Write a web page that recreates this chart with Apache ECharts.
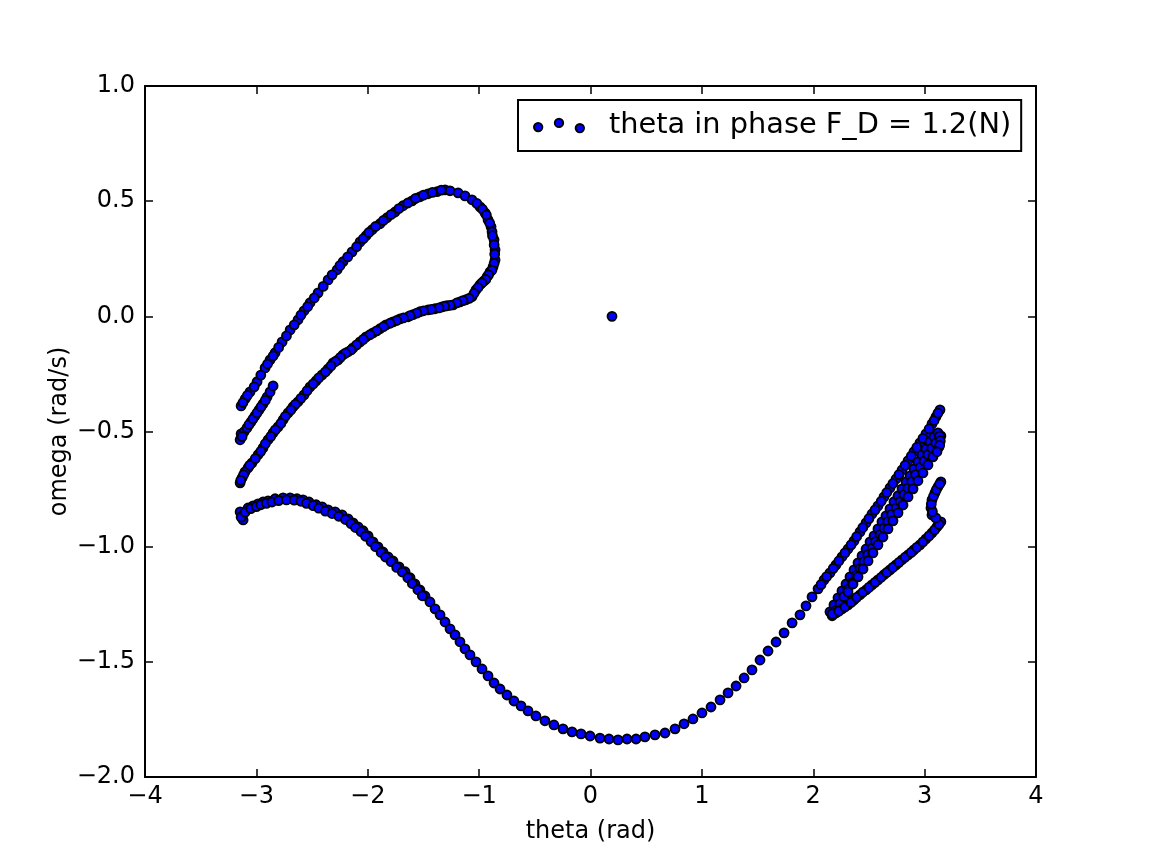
<!DOCTYPE html>
<html>
<head>
<meta charset="utf-8">
<script src="https://cdn.jsdelivr.net/npm/echarts@6/dist/echarts.min.js"></script>
<style>
html,body{margin:0;padding:0;background:#fff;}
#chart{width:1152px;height:864px;}
</style>
</head>
<body>
<div id="chart"></div>
<script>
// ---- DATA (theta [rad], omega [rad/s]) ----
const seriesName = 'theta in phase F_D = 1.2(N)';
const xTicks = [-4, -3, -2, -1, 0, 1, 2, 3, 4];
const yTicks = [-2.0, -1.5, -1.0, -0.5, 0.0, 0.5, 1.0];

// upper loop, outer arm (from left edge up and around)
const loopOuter = [
  [-3.137,-0.389],[-3.100,-0.358],[-3.057,-0.328],[-2.994,-0.284],[-2.922,-0.224],
  [-2.877,-0.189],[-2.832,-0.158],[-2.769,-0.111],[-2.697,-0.059],[-2.626,-0.015],
  [-2.572,0.024],[-2.518,0.059],[-2.446,0.102],[-2.356,0.158],[-2.275,0.202],
  [-2.222,0.237],[-2.141,0.280],[-2.069,0.323],[-2.015,0.350],[-1.961,0.376],
  [-1.890,0.402],[-1.827,0.428],[-1.755,0.453],[-1.683,0.480],[-1.602,0.501],
  [-1.531,0.519],[-1.459,0.532],[-1.378,0.541],[-1.306,0.549],[-1.261,0.545],
  [-1.189,0.536],[-1.127,0.523],[-1.064,0.506],[-0.992,0.475],[-0.947,0.449],
  [-0.920,0.419],[-0.893,0.389],[-0.884,0.367],[-0.866,0.332],[-0.857,0.289],
  [-0.857,0.245],[-0.875,0.215],[-0.902,0.193],[-0.929,0.172],[-0.956,0.154],
  [-0.992,0.137],[-1.028,0.115],[-1.064,0.085],[-1.118,0.072],[-1.172,0.063],
  [-1.234,0.050]
];
// upper loop, second pass
const loopOuter2 = [
  [-3.120,-0.374],[-3.080,-0.343],[-3.020,-0.306],[-2.960,-0.255],[-2.900,-0.207],
  [-2.850,-0.172],[-2.800,-0.135],[-2.730,-0.085],[-2.660,-0.037],[-2.600,0.005],
  [-2.540,0.042],[-2.480,0.080],[-2.400,0.130],[-2.320,0.180],[-2.250,0.220],
  [-2.180,0.258],[-2.100,0.302],[-2.040,0.337],[-1.990,0.364],[-1.930,0.390],
  [-1.860,0.416],[-1.790,0.442],[-1.720,0.468],[-1.640,0.492],[-1.570,0.512],
  [-1.500,0.526],[-1.420,0.538],[-1.340,0.548],[-1.020,0.490],[-0.970,0.465],
  [-0.935,0.440],[-0.905,0.405],[-0.880,0.350],[-0.865,0.310],[-0.860,0.270],
  [-0.865,0.230],[-0.885,0.200],[-0.915,0.180],[-0.940,0.160],[-0.975,0.145],
  [-1.010,0.125],[-1.045,0.100],[-1.090,0.078],[-1.145,0.068],[-1.200,0.058]
];
// upper loop, inner arm (back down to the left edge)
const loopInner = [
  [-1.288,0.046],[-1.333,0.041],[-1.396,0.033],[-1.459,0.028],[-1.531,0.020],
  [-1.594,0.007],[-1.638,-0.002],[-1.710,-0.011],[-1.773,-0.024],[-1.836,-0.037],
  [-1.890,-0.054],[-1.953,-0.072],[-2.015,-0.089],[-2.069,-0.111],[-2.132,-0.137],
  [-2.177,-0.154],[-2.222,-0.167],[-2.267,-0.189],[-2.311,-0.202],[-2.356,-0.228],
  [-2.410,-0.254],[-2.464,-0.280],[-2.518,-0.306],[-2.572,-0.341],[-2.626,-0.371],
  [-2.671,-0.393],[-2.715,-0.419],[-2.760,-0.449],[-2.805,-0.480],[-2.850,-0.506],
  [-2.895,-0.536],[-2.940,-0.571],[-2.985,-0.601],[-3.039,-0.636],[-3.075,-0.658],
  [-3.102,-0.675],[-3.128,-0.701],[-3.146,-0.723]
];
const loopInner2 = [
  [-1.260,0.048],[-1.310,0.044],[-1.360,0.037],[-1.430,0.030],[-1.500,0.024],
  [-1.560,0.014],[-1.620,0.003],[-1.680,-0.007],[-1.740,-0.018],[-1.800,-0.030],
  [-1.860,-0.045],[-1.920,-0.063],[-1.980,-0.080],[-2.040,-0.100],[-2.100,-0.124],
  [-2.150,-0.146],[-2.200,-0.160],[-2.245,-0.178],[-2.290,-0.196],[-2.330,-0.215],
  [-2.380,-0.241],[-2.440,-0.267],[-2.490,-0.293],[-2.545,-0.323],[-2.600,-0.356],
  [-2.650,-0.382],[-2.690,-0.406],[-2.740,-0.434],[-2.780,-0.465],[-2.830,-0.493],
  [-2.870,-0.521],[-2.920,-0.553],[-2.960,-0.586],[-3.010,-0.618],[-3.060,-0.647],
  [-3.115,-0.688],[-3.140,-0.712]
];
// short segment near the left edge
const leftShort = [
  [-3.146,-0.536],[-3.137,-0.510],[-3.110,-0.501],[-3.084,-0.484],[-3.048,-0.458],
  [-3.012,-0.432],[-2.976,-0.406],[-2.940,-0.380],[-2.904,-0.350],[-2.877,-0.328],
  [-2.850,-0.302],[-3.128,-0.522],[-3.066,-0.470],[-3.030,-0.445],[-2.994,-0.419],
  [-2.958,-0.393],[-2.920,-0.365]
];
// isolated starting point
const startPoint = [[0.193,0.000]];
// big lower arc from left edge to right edge
const lowerArc = [
  [-3.146,-0.849],[-3.119,-0.884],[-3.128,-0.866],[-3.075,-0.832],[-3.030,-0.823],
  [-2.985,-0.814],[-2.940,-0.806],[-2.895,-0.801],[-2.832,-0.792],[-2.760,-0.788],
  [-2.697,-0.788],[-2.635,-0.792],[-2.581,-0.797],[-2.527,-0.806],[-2.464,-0.818],
  [-2.410,-0.827],[-2.356,-0.840],[-2.293,-0.849],[-2.231,-0.862],[-2.177,-0.879],
  [-2.132,-0.897],[-2.087,-0.914],[-2.042,-0.931],[-1.997,-0.953],[-1.953,-0.979],
  [-1.908,-1.001],[-1.863,-1.023],[-1.818,-1.044],[-1.773,-1.062],[-1.719,-1.088],
  [-1.665,-1.109],[-1.620,-1.135],[-1.576,-1.162],[-1.531,-1.188],[-1.486,-1.214],
  [-1.441,-1.240],[-1.396,-1.270],[-1.351,-1.296],[-1.306,-1.327],[-1.261,-1.357],
  [-1.216,-1.383],[-1.172,-1.413],[-1.127,-1.444],[-1.082,-1.470],[-1.028,-1.500],
  [-0.974,-1.531],[-0.920,-1.561],[-0.866,-1.592],[-0.812,-1.618],[-0.750,-1.644],
  [-0.687,-1.670],[-0.624,-1.691],[-0.561,-1.713],[-0.490,-1.735],[-0.409,-1.756],
  [-0.328,-1.774],[-0.247,-1.791],[-0.166,-1.804],[-0.085,-1.813],[-0.004,-1.822],
  [0.085,-1.831],[0.166,-1.835],[0.247,-1.839],[0.328,-1.835],[0.409,-1.835],
  [0.489,-1.826],[0.579,-1.817],[0.669,-1.809],[0.759,-1.791],[0.840,-1.769],
  [0.920,-1.748],[1.001,-1.722],[1.082,-1.696],[1.163,-1.665],[1.235,-1.635],
  [1.307,-1.605],[1.379,-1.570],[1.450,-1.535],[1.522,-1.492],[1.594,-1.453],
  [1.666,-1.414],[1.738,-1.374],[1.810,-1.331],[1.881,-1.296],[1.935,-1.257],
  [1.989,-1.218],[2.043,-1.183],[2.097,-1.144],[2.150,-1.114],[2.204,-1.079],
  [2.258,-1.044],[2.312,-1.010],[2.366,-0.975],[2.420,-0.936],[2.474,-0.897],
  [2.527,-0.858],[2.581,-0.823],[2.635,-0.784],[2.689,-0.745],[2.743,-0.706],
  [2.797,-0.667],[2.851,-0.627],[2.904,-0.588],[2.958,-0.549],[3.012,-0.510],
  [3.066,-0.467],[3.102,-0.436],[3.138,-0.406]
];
// second pass over the thick left part of the lower arc
const lowerArc2 = [
  [-3.137,-0.872],[-3.100,-0.850],[-3.050,-0.835],[-3.000,-0.826],[-2.960,-0.818],
  [-2.910,-0.812],[-2.860,-0.806],[-2.800,-0.800],[-2.730,-0.797],[-2.660,-0.798],
  [-2.600,-0.803],[-2.550,-0.812],[-2.490,-0.822],[-2.440,-0.833],[-2.380,-0.846],
  [-2.320,-0.856],[-2.260,-0.868],[-2.200,-0.882],[-2.150,-0.900],[-2.110,-0.917],
  [-2.060,-0.935],[-2.020,-0.955],[-1.970,-0.978],[-1.930,-1.000],[-1.880,-1.025],
  [-1.840,-1.045],[-1.790,-1.065],[-1.740,-1.090],[-1.690,-1.110],[-1.640,-1.135],
  [-1.600,-1.160],[-1.550,-1.187],[-1.510,-1.213]
];
// second pass over the rising right part of the lower arc
const lowerArc3 = [
  [2.070,-1.165],[2.120,-1.130],[2.180,-1.094],[2.230,-1.062],[2.285,-1.027],
  [2.340,-0.992],[2.390,-0.956],[2.445,-0.917],[2.500,-0.878],[2.555,-0.840],
  [2.610,-0.803],[2.660,-0.765],[2.715,-0.726],[2.770,-0.687],[2.825,-0.647],
  [2.880,-0.607],[2.930,-0.569],[2.985,-0.530],[3.040,-0.489],[3.085,-0.452],
  [3.120,-0.420]
];
// right tangle: middle strand
const rightMid = [
  [2.150,-1.283],[2.186,-1.253],[2.222,-1.222],[2.258,-1.192],[2.294,-1.162],
  [2.330,-1.131],[2.366,-1.101],[2.402,-1.070],[2.438,-1.040],[2.474,-1.010],
  [2.510,-0.979],[2.546,-0.953],[2.581,-0.923],[2.617,-0.892],[2.653,-0.866],
  [2.689,-0.836],[2.725,-0.805],[2.761,-0.779],[2.797,-0.749],[2.833,-0.719],
  [2.869,-0.693],[2.904,-0.662],[2.940,-0.632],[2.976,-0.601],[3.012,-0.575],
  [3.048,-0.545],[3.084,-0.523],[3.120,-0.506],[3.146,-0.519],[3.138,-0.545],
  [3.129,-0.567]
];
const rightMidB = [
  [2.170,-1.300],[2.200,-1.278],[2.240,-1.247],[2.275,-1.217],[2.310,-1.186],
  [2.350,-1.156],[2.385,-1.125],[2.420,-1.095],[2.455,-1.065],[2.490,-1.034],
  [2.530,-1.006],[2.560,-0.978],[2.600,-0.947],[2.635,-0.919],[2.670,-0.891],
  [2.705,-0.860],[2.745,-0.832],[2.780,-0.804],[2.815,-0.774],[2.850,-0.746],
  [2.885,-0.717],[2.920,-0.687],[2.960,-0.656],[2.995,-0.628],[3.030,-0.600],
  [3.065,-0.572],[3.100,-0.550],[3.135,-0.520],[3.140,-0.540],[3.135,-0.560]
];
// right tangle: second middle strand
const rightMid2 = [
  [2.312,-1.196],[2.357,-1.162],[2.402,-1.131],[2.447,-1.097],[2.492,-1.062],
  [2.536,-1.027],[2.581,-0.992],[2.626,-0.958],[2.671,-0.923],[2.716,-0.888],
  [2.761,-0.853],[2.806,-0.819],[2.851,-0.784],[2.896,-0.749],[2.940,-0.714],
  [2.985,-0.680],[3.030,-0.645],[3.075,-0.610],[3.111,-0.588]
];
// right tangle: lower loop strand and hook
const rightLoop = [
  [2.204,-1.288],[2.258,-1.270],[2.312,-1.253],[2.366,-1.231],[2.420,-1.209],
  [2.474,-1.188],[2.527,-1.166],[2.581,-1.144],[2.635,-1.122],[2.689,-1.101],
  [2.743,-1.079],[2.797,-1.057],[2.851,-1.036],[2.904,-1.014],[2.958,-0.992],
  [3.012,-0.966],[3.066,-0.940],[3.111,-0.914],[3.146,-0.892],
  [3.066,-0.862],[3.057,-0.832],[3.066,-0.797],[3.093,-0.766],[3.120,-0.740],
  [3.146,-0.719]
];
const rightLoop2 = [
  [2.170,-1.292],[2.230,-1.280],[2.285,-1.262],[2.340,-1.242],[2.390,-1.220],
  [2.445,-1.198],[2.500,-1.177],[2.555,-1.155],[2.610,-1.133],[2.660,-1.112],
  [2.715,-1.090],[2.770,-1.068],[2.825,-1.046],[2.880,-1.025],[2.930,-1.003],
  [2.985,-0.979],[3.040,-0.953],[3.090,-0.927],[3.130,-0.903],[3.100,-0.875],
  [3.070,-0.848],[3.060,-0.815],[3.080,-0.781],[3.105,-0.753],[3.135,-0.728]
];

const allPoints = [].concat(loopOuter, loopOuter2, loopInner, loopInner2, leftShort,
  startPoint, lowerArc, lowerArc2, lowerArc3, rightMid, rightMidB, rightMid2,
  rightLoop, rightLoop2);

// ---- CHART ----
const FONT = 'DejaVu Sans';
const minus = s => String(s).replace('-', '\u2212');
const chart = echarts.init(document.getElementById('chart'), null, {renderer: 'canvas'});

function axisBase(extra) {
  return Object.assign({
    type: 'value',
    splitLine: {show: false},
    axisLine: {show: true, onZero: false, lineStyle: {color: '#000', width: 2}},
    axisTick: {show: true, inside: true, length: 8, lineStyle: {color: '#000', width: 1.5}},
  }, extra);
}

chart.setOption({
  animation: false,
  backgroundColor: '#fff',
  textStyle: {fontFamily: FONT},
  grid: {left: 145, top: 86, width: 891, height: 691, containLabel: false},
  legend: {
    show: true,
    data: [seriesName],
    left: 518, top: 100,
    orient: 'horizontal',
    backgroundColor: '#fff',
    borderColor: '#000', borderWidth: 2, borderRadius: 0,
    padding: [11, 10, 11, 15],
    icon: 'path://M1,9a4,4 0 1,0 8,0a4,4 0 1,0 -8,0M21,5a4,4 0 1,0 8,0a4,4 0 1,0 -8,0M41,10a4,4 0 1,0 8,0a4,4 0 1,0 -8,0',
    itemWidth: 50, itemHeight: 14,
    textStyle: {fontFamily: FONT, fontSize: 28.8, color: '#000', padding: [0, 0, 0, 20]}
  },
  xAxis: [
    axisBase({
      min: xTicks[0], max: xTicks[xTicks.length - 1], interval: 1,
      position: 'bottom',
      name: 'theta (rad)', nameLocation: 'middle', nameGap: 43,
      nameMoveOverlap: false,
      nameTextStyle: {fontFamily: FONT, fontSize: 24, color: '#000'},
      axisLabel: {show: true, margin: 8, fontFamily: FONT, fontSize: 24, color: '#000',
        formatter: v => minus(v)}
    }),
    axisBase({
      min: xTicks[0], max: xTicks[xTicks.length - 1], interval: 1,
      position: 'top', axisLabel: {show: false}
    })
  ],
  yAxis: [
    axisBase({
      min: yTicks[0], max: yTicks[yTicks.length - 1], interval: 0.5,
      position: 'left',
      name: 'omega (rad/s)', nameLocation: 'middle', nameGap: 73,
      nameMoveOverlap: false,
      nameTextStyle: {fontFamily: FONT, fontSize: 24, color: '#000'},
      axisLabel: {show: true, margin: 10, fontFamily: FONT, fontSize: 24, color: '#000',
        formatter: v => minus(v.toFixed(1))}
    }),
    axisBase({
      min: yTicks[0], max: yTicks[yTicks.length - 1], interval: 0.5,
      position: 'right', axisLabel: {show: false}
    })
  ],
  series: [{
    name: seriesName,
    type: 'scatter',
    xAxisIndex: 0, yAxisIndex: 0,
    data: allPoints,
    symbol: 'circle',
    symbolSize: 9,
    itemStyle: {color: '#0000ff', borderColor: '#000', borderWidth: 1.8, opacity: 1},
    emphasis: {disabled: true}
  }]
});
</script>
</body>
</html>
